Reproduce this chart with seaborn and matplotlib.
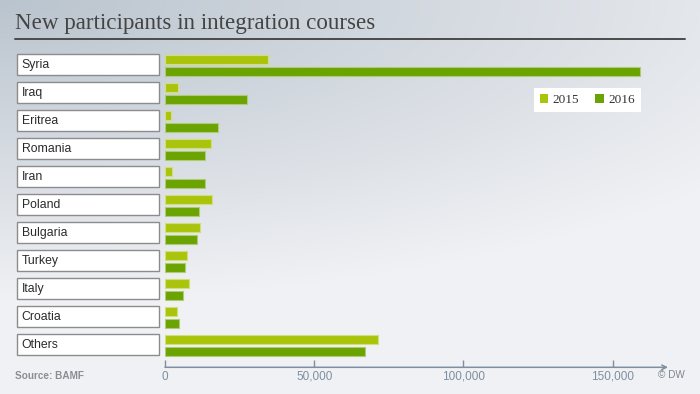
import numpy as np
import pandas as pd
import matplotlib
matplotlib.use("Agg")
import matplotlib.pyplot as plt
import matplotlib.transforms as mtrans
from matplotlib.patches import Rectangle, Patch
from matplotlib.lines import Line2D
import seaborn as sns

# ---- data ----
countries = ["Syria", "Iraq", "Eritrea", "Romania", "Iran", "Poland",
             "Bulgaria", "Turkey", "Italy", "Croatia", "Others"]
v2015 = [34400, 4300, 2100, 15400, 2300, 15700, 11700, 7300, 8000, 4000, 71400]
v2016 = [159000, 27600, 17600, 13400, 13400, 11400, 10700, 6700, 6000, 4700, 66900]
years = ["2015", "2016"]
tick_values = [0, 50000, 100000, 150000]
tick_labels = ["0", "50,000", "100,000", "150,000"]
title = "New participants in integration courses"
source = "Source: BAMF"
credit = "© DW"

c15 = "#a9c40a"
c16 = "#6ba300"
axc = "#7d8fa0"

df = pd.DataFrame({
    "country": countries * 2,
    "year": [years[0]] * len(countries) + [years[1]] * len(countries),
    "value": v2015 + v2016,
})

sns.set_theme(style="white")
plt.rcParams["font.family"] = ["Liberation Sans", "DejaVu Sans"]

W, H = 700, 394
fig = plt.figure(figsize=(7.0, 3.94), dpi=100)

# ---- gradient background ----
bg = fig.add_axes([0, 0, 1, 1], zorder=0)
xx, yy = np.meshgrid(np.arange(W), np.arange(H))
t = np.clip(np.sqrt((xx / 900.0) ** 2 + (yy / 300.0) ** 2), 0, 1)
dark = np.array([186, 196, 206]) / 255.0
light = np.array([240, 241, 244]) / 255.0
img = dark[None, None, :] * (1 - t[..., None]) + light[None, None, :] * t[..., None]
bg.imshow(img, aspect="auto", extent=[0, W, H, 0])
bg.set_xlim(0, W)
bg.set_ylim(H, 0)
bg.axis("off")

# ---- main axes ----
row0 = 65.4
step = 28.0
ax_top = row0 - step / 2
ax_bot = 367.3
x0px, x150px, xendpx = 165.0, 612.7, 668.0
ax = fig.add_axes([x0px / W, 1 - ax_bot / H, (xendpx - x0px) / W, (ax_bot - ax_top) / H], zorder=1)
ax.patch.set_alpha(0)

sns.barplot(data=df, y="country", x="value", hue="year", hue_order=years,
            palette=[c15, c16], orient="h", width=0.84, gap=0.2,
            saturation=1, ax=ax, legend=False, linewidth=0.8)
for bar in ax.patches:
    fc = bar.get_facecolor()
    bar.set_edgecolor(tuple(min(1, c * 0.55 + 0.45) for c in fc[:3]))

xmax = (xendpx - x0px) / (x150px - x0px) * 150000
ax.set_xlim(0, xmax)
ax.set_ylim((ax_bot - row0) / step, -0.5)
ax.set_yticks([])
ax.set_xlabel("")
ax.set_ylabel("")
ax.set_xticks(tick_values, tick_labels)
ax.tick_params(axis="x", direction="in", length=5.2, width=1.0, color=axc,
               labelcolor=axc, labelsize=8.5, pad=2.5, bottom=True)
for s in ax.spines.values():
    s.set_visible(False)
ax.annotate("", xy=(1, 0), xytext=(0, 0), xycoords="axes fraction",
            arrowprops=dict(arrowstyle="->", color=axc, lw=1.1,
                            shrinkA=0, shrinkB=0, mutation_scale=8),
            annotation_clip=False)

# ---- category label boxes ----
trans = mtrans.blended_transform_factory(fig.transFigure, ax.transData)
for i, name in enumerate(countries):
    yc = i - 0.032
    r = Rectangle((17.3 / W, yc - 0.365), 141.4 / W, 0.73, transform=trans,
                  facecolor="white", edgecolor="#8c8c8c", lw=1.0, zorder=3)
    r.set_clip_on(False)
    ax.add_patch(r)
    ax.text(21.7 / W, yc, name, transform=trans, va="center", ha="left",
            fontsize=8.8, color="#2a2a2a", zorder=4, clip_on=False)

# ---- legend ----
handles = [Patch(facecolor=c15, edgecolor="none"), Patch(facecolor=c16, edgecolor="none")]
leg = fig.legend(handles, years, loc="center", bbox_to_anchor=(587.3 / W, 1 - 100.0 / H),
                 ncol=2, frameon=True, facecolor="white", edgecolor="none", framealpha=1,
                 fancybox=False, prop={"family": ["Liberation Serif", "DejaVu Serif"], "size": 9.5},
                 handlelength=0.65, handleheight=0.65, handletextpad=0.35,
                 columnspacing=1.2, borderpad=0.45, labelcolor="#333333")
leg.set_zorder(5)

# ---- title, rule, footer ----
fig.text(15 / W, 1 - 29.3 / H, title, family=["Liberation Serif", "DejaVu Serif"],
         fontsize=16.6, color="#444444", va="baseline", ha="left")
fig.add_artist(Line2D([15 / W, 685 / W], [1 - 39 / H] * 2, color="#4a4a4a", lw=1.4))
fig.text(15.3 / W, 1 - 375.7 / H, source, fontsize=7.2, weight="bold",
         color="#8a8e93", va="center", ha="left")
fig.text(657.7 / W, 1 - 375.3 / H, credit, fontsize=7.2, color="#7d8590",
         va="center", ha="left")

fig.savefig("out.png", dpi=100)
